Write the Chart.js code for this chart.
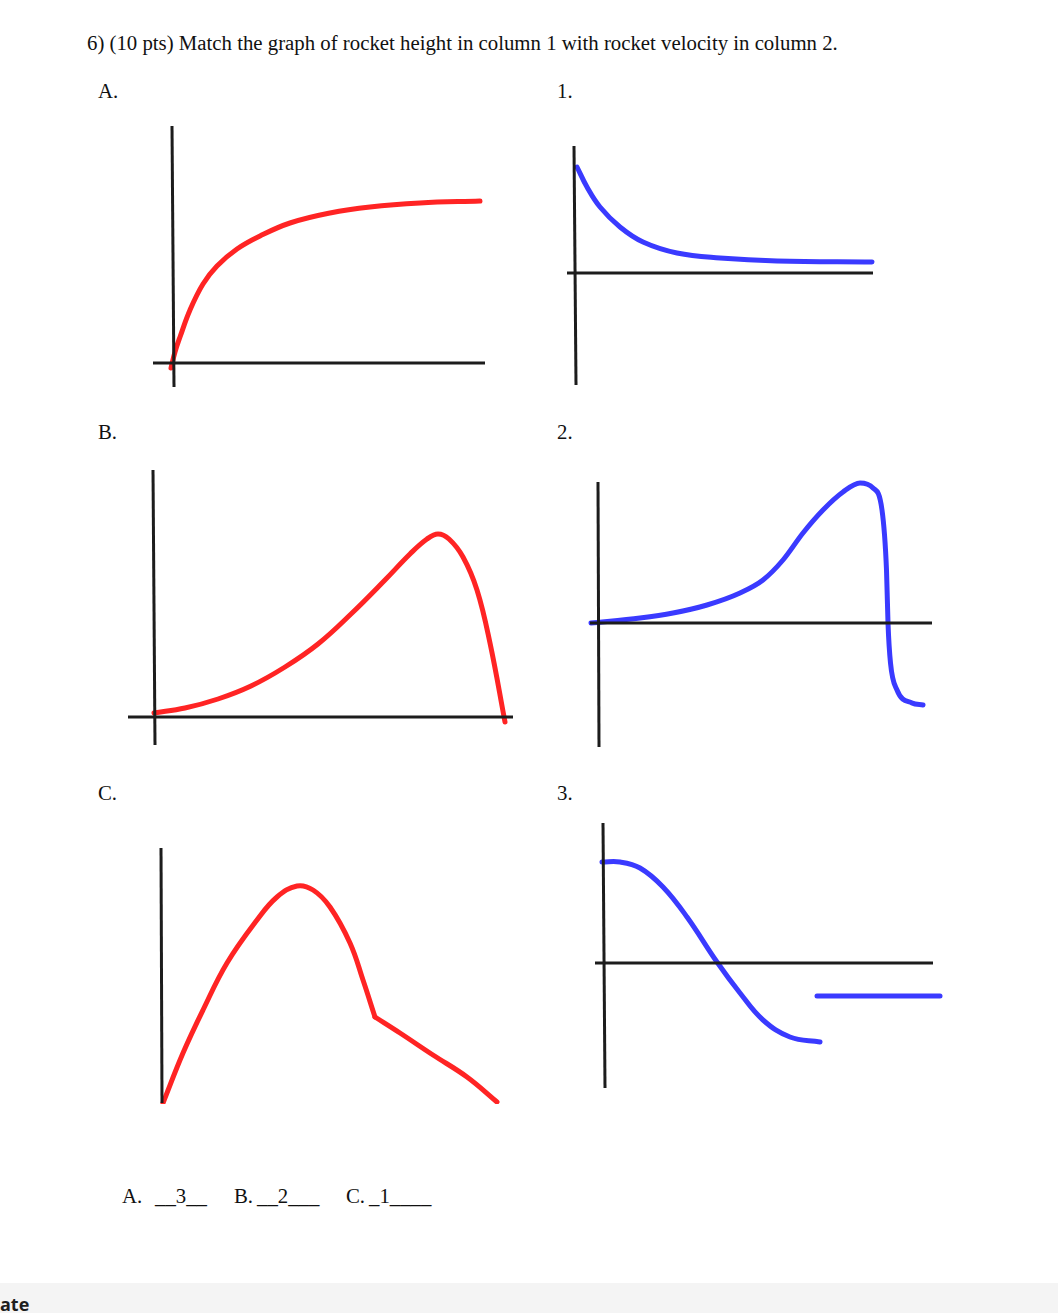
<!DOCTYPE html>
<html lang="en">
<head>
    <meta charset="UTF-8">
    <title>Rocket height and velocity</title>
    <script src="https://cdn.jsdelivr.net/npm/chart.js"></script>
    <style>
        body {
            margin: 0;
            width: 1058px;
            height: 1313px;
            overflow: hidden;
            background: #fff;
            position: relative;
            font-family: "Liberation Serif", "Times New Roman", serif;
            color: #111;
        }
        .txt {
            position: absolute;
            font-size: 20.8px;
            line-height: 20px;
            white-space: pre;
        }
        canvas {
            position: absolute;
        }
        .footer {
            position: absolute;
            left: 0;
            top: 1283px;
            width: 1058px;
            height: 30px;
            background: #f4f4f4;
        }
        .footer span {
            position: absolute;
            left: 0;
            top: 11px;
            font-family: "Open Sans", "Noto Sans", sans-serif;
            font-weight: 700;
            font-size: 18px;
            line-height: 20px;
            color: #1e1e1e;
        }
    </style>
</head>
<body>

    <div class="txt" style="left:87px; top:33px;">6) (10 pts) Match the graph of rocket height in column 1 with rocket velocity in column 2.</div>

    <div class="txt" style="left:98px; top:81px;">A.</div>
    <div class="txt" style="left:557px; top:81px;">1.</div>
    <div class="txt" style="left:98px; top:422px;">B.</div>
    <div class="txt" style="left:557px; top:422px;">2.</div>
    <div class="txt" style="left:98px; top:783px;">C.</div>
    <div class="txt" style="left:557px; top:783px;">3.</div>

    <canvas id="chartA" width="370" height="290" style="left:140px; top:110px;"></canvas>
    <canvas id="chart1" width="330" height="260" style="left:560px; top:135px;"></canvas>
    <canvas id="chartB" width="400" height="295" style="left:120px; top:460px;"></canvas>
    <canvas id="chart2" width="360" height="285" style="left:580px; top:470px;"></canvas>
    <canvas id="chartC" width="360" height="264" style="left:150px; top:840px;"></canvas>
    <canvas id="chart3" width="365" height="280" style="left:585px; top:815px;"></canvas>

    <!-- answers -->
    <div class="txt" style="left:122px; top:1186px;">A.</div>
    <div class="txt" style="left:155px; top:1186px;">__3__</div>
    <div class="txt" style="left:234px; top:1186px;">B.</div>
    <div class="txt" style="left:257px; top:1186px;">__2___</div>
    <div class="txt" style="left:346px; top:1186px;">C.</div>
    <div class="txt" style="left:369px; top:1186px;">_1____</div>

    <div class="footer"><span>ate</span></div>

    <script>

        // A. height: rises fast then levels off
        const aT = [-0.2, 0.2, 0.7, 1.7, 3.0, 4.4, 6.4, 8.7, 11.7, 15.7, 19.7, 24.7, 30.7];
        const aH = [-0.5, 1.1, 2.6, 5.3, 7.9, 9.7, 11.4, 12.7, 14.0, 15.0, 15.6, 16.0, 16.2];

        // 1. velocity: decays toward a small positive value
        const v1T = [0.2, 1.2, 2.5, 4.5, 6.8, 10.2, 14.5, 20.2, 29.7];
        const v1V = [10.6, 8.6, 6.6, 4.6, 3.1, 2.0, 1.5, 1.2, 1.1];

        // B. height: slow rise, peak, fast fall
        const bT = [0.0, 3.1, 6.4, 9.7, 13.1, 16.4, 19.7, 23.1, 25.6, 27.3, 28.4, 29.5, 30.9, 32.3, 33.6, 35.1];
        const bH = [0.4, 0.9, 1.8, 3.1, 5.0, 7.3, 10.3, 13.7, 16.3, 17.8, 18.3, 17.8, 16.0, 12.7, 7.4, -0.5];

        // 2. velocity: grows, peaks, drops below zero
        const v2T = [-0.7, 4.2, 7.5, 10.9, 14.2, 16.5, 18.5, 20.5, 22.5, 24.5, 26.2, 27.5, 28.4, 28.85, 29.0, 29.25, 29.9, 31.4, 32.5];
        const v2V = [0.0, 0.5, 1.0, 1.8, 3.0, 4.3, 6.3, 9.0, 11.3, 13.1, 14.0, 13.5, 11.3, 5.3, 0.0, -4.0, -6.7, -8.0, -8.2];

        // C. height: up, down, then a kink (parachute)
        const cT1 = [0.1, 2.1, 4.1, 6.5, 9.5, 11.5, 13.5, 15.1, 16.8, 18.8, 20.1, 21.3];
        const cH1 = [0.0, 5.0, 9.3, 14.0, 18.3, 20.6, 21.7, 21.3, 19.6, 16.0, 12.3, 8.6];
        const cT2 = [21.3, 23.8, 27.1, 30.5, 33.5];
        const cH2 = [8.6, 7.0, 4.8, 2.6, 0.1];

        // 3. velocity: falls through zero, then jumps to a constant
        const v3T1 = [-0.2, 1.6, 3.6, 5.9, 8.3, 11.3, 13.6, 15.9, 18.6, 21.6];
        const v3V1 = [10.1, 10.1, 9.5, 7.6, 4.6, 0.1, -3.0, -5.7, -7.4, -7.9];
        const v3T2 = [21.3, 33.6];
        const v3V2 = [-3.3, -3.3];

        // hand drawn axes: [x0, y0, x1, y1] in the same units
        const axesA = { v: [-0.1, 23.7, 0.1, -2.4], h: [-2.0, 0, 31.2, 0] };
        const axes1 = { v: [-0.1, 12.7, 0.1, -11.2], h: [-0.8, 0, 29.8, 0] };
        const axesB = { v: [-0.1, 24.7, 0.1, -2.8], h: [-2.6, 0, 35.9, 0] };
        const axes2 = { v: [0.0, 14.1, 0.1, -12.4], h: [-0.8, 0, 33.4, 0] };
        const axesC = { v: [-0.1, 25.5, 0.0, 0.0], h: null };
        const axes3 = { v: [-0.1, 14.0, 0.1, -12.5], h: [-0.9, 0, 32.9, 0] };

        const RED = '#ff2424';
        const BLUE = '#3a3aff';
        const INK = '#1c1c1c';
        const UNIT = 10;

        function pts(xs, ys) {
            return xs.map((x, i) => ({ x: x, y: ys[i] }));
        }

        function axisSet(seg) {
            return {
                data: [{ x: seg[0], y: seg[1] }, { x: seg[2], y: seg[3] }],
                borderColor: INK,
                borderWidth: 3,
                tension: 0
            };
        }

        function curveSet(data, color, mode) {
            const set = {
                data: data,
                borderColor: color,
                borderWidth: 5,
                borderCapStyle: 'round',
                borderJoinStyle: 'round',
                tension: 0.4
            };
            if (mode) set.cubicInterpolationMode = mode;
            return set;
        }

        // ox, oy: where the axes cross inside the canvas (px)
        function sketch(id, ox, oy, axes, curves) {
            const canvas = document.getElementById(id);
            const w = canvas.width, h = canvas.height;
            const sets = [];
            if (axes.v) sets.push(axisSet(axes.v));
            if (axes.h) sets.push(axisSet(axes.h));
            curves.forEach(c => sets.push(c));
            return new Chart(canvas.getContext('2d'), {
                type: 'line',
                data: { datasets: sets },
                options: {
                    responsive: false,
                    animation: false,
                    layout: { padding: 0 },
                    elements: { point: { radius: 0, hoverRadius: 0 } },
                    plugins: { legend: { display: false }, tooltip: { enabled: false } },
                    scales: {
                        x: { type: 'linear', display: false, min: -ox / UNIT, max: (w - ox) / UNIT },
                        y: { type: 'linear', display: false, min: -(h - oy) / UNIT, max: oy / UNIT }
                    }
                }
            });
        }

        sketch('chartA', 33, 253, axesA, [curveSet(pts(aT, aH), RED)]);
        sketch('chart1', 15, 138, axes1, [curveSet(pts(v1T, v1V), BLUE)]);
        sketch('chartB', 34, 257, axesB, [curveSet(pts(bT, bH), RED)]);
        sketch('chart2', 18, 153, axes2, [curveSet(pts(v2T, v2V), BLUE, 'monotone')]);
        sketch('chartC', 12, 263, axesC, [curveSet(pts(cT1, cH1), RED), curveSet(pts(cT2, cH2), RED)]);
        sketch('chart3', 19, 148, axes3, [curveSet(pts(v3T1, v3V1), BLUE), curveSet(pts(v3T2, v3V2), BLUE)]);
    </script>

</body>
</html>
